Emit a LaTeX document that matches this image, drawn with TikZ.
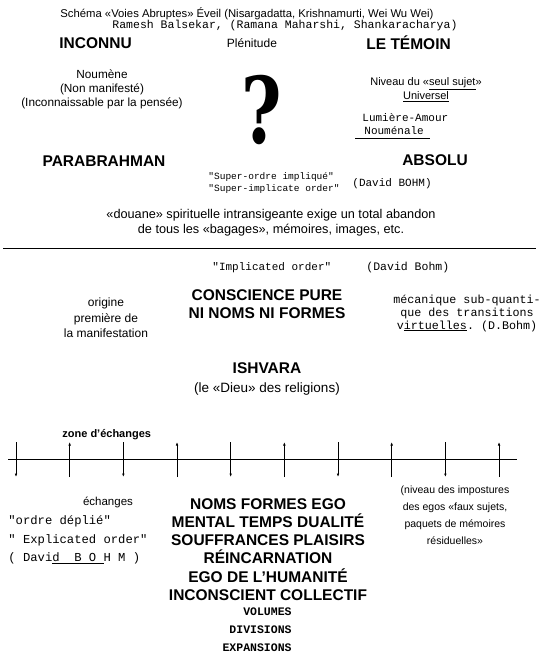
\documentclass[tikz,border=0pt]{standalone}
\usepackage{fontspec}
\setmainfont{Liberation Sans}
\setmonofont{Liberation Mono}
\newfontfamily\qmarkfont{DejaVu Serif}
\usetikzlibrary{arrows.meta}

\tikzset{
	sans/.style={inner sep=0pt, align=center, font=\fontsize{10.5}{14}\selectfont},
	mono/.style={inner sep=0pt, align=left, font=\ttfamily\fontsize{11}{12.5}\selectfont},
	big/.style={inner sep=0pt, align=center, font=\bfseries\fontsize{15.5}{18.3}\selectfont},
	tick/.style={-{Latex[length=3.5pt,width=2.6pt]}, line width=0.8pt},
}

\begin{document}
\begin{tikzpicture}[x=1pt, y=-1pt, line width=0.8pt]
\useasboundingbox (0,0) rectangle (544,660);
\node[sans, anchor=west, font=\fontsize{11.3}{13}\selectfont] (titre) at (60,14)
	{Schéma «Voies Abruptes» Éveil (Nisargadatta, Krishnamurti, Wei Wu Wei)};
\node[mono, anchor=west, font=\ttfamily\fontsize{11.5}{13}\selectfont] (ramesh) at (112,26)
	{Ramesh Balsekar, (Ramana Maharshi, Shankaracharya)};
\node[big, anchor=west] (inconnu) at (59,43) {INCONNU};
\node[sans, font=\fontsize{12}{14}\selectfont] (plenitude) at (252,43) {Plénitude};
\node[big, anchor=west] (temoin) at (366,43) {LE TÉMOIN};
\node[sans, font=\fontsize{11.8}{14}\selectfont] (noumene) at (102,89)
	{Noumène\\(Non manifesté)\\(Inconnaissable par la pensée)};
\node[inner sep=0pt] (qmark) at (262,110)
	{\scalebox{0.75}[1]{\qmarkfont\bfseries\fontsize{92}{92}\selectfont ?}};
\node[sans, font=\fontsize{11}{14}\selectfont] (niveau) at (426,90)
	{Niveau du «\underline{seul sujet}»\\\underline{Universel}};
\node[mono, anchor=west] (lumiere) at (362,118) {Lumière-Amour};
\node[mono, anchor=west] (nm) at (364,131) {Nouménale};
\draw[line width=0.6pt] ([xshift=-9pt,yshift=-3pt]nm.base west)
	-- ([xshift=6pt,yshift=-3pt]nm.base east);
\node[big] (parabrahman) at (104,161) {PARABRAHMAN};
\node[big] (absolu) at (435,160) {ABSOLU};
\node[mono, anchor=west, font=\ttfamily\fontsize{9.5}{11.5}\selectfont] (superordre)
	at (208,183) {"Super-ordre impliqué"\\"Super-implicate order"};
\node[mono, anchor=west] (bohma) at (352,184) {(David BOHM)};
\node[sans, font=\fontsize{12.7}{15}\selectfont] (douane) at (271,223)
	{«douane» spirituelle intransigeante exige un total abandon\\
	de tous les «bagages», mémoires, images, etc.};
\coordinate (sepG) at (3,248);
\coordinate (sepD) at (536,248);
\draw (sepG) -- (sepD);
\node[mono, anchor=west] (implique) at (212,268) {"Implicated order"};
\node[mono, anchor=west, font=\ttfamily\fontsize{11.5}{13}\selectfont] (bohmb)
	at (366,268) {(David Bohm)};
\node[big] (conscience) at (267,304) {CONSCIENCE PURE\\NI NOMS NI FORMES};
\node[sans, font=\fontsize{12}{15.5}\selectfont] (origine) at (106,318)
	{origine\\première de\\la manifestation};
\node[mono, align=center, font=\ttfamily\fontsize{11.7}{13}\selectfont] (mecanique)
	at (467,313) {mécanique sub-quanti-\\que des transitions\\v\underline{irtuelles}. (D.Bohm)};
\node[big] (ishvara) at (267,368) {ISHVARA};
\node[sans, font=\fontsize{13.5}{16}\selectfont] (dieu) at (267,389)
	{(le «Dieu» des religions)};
\node[sans, anchor=west, font=\bfseries\fontsize{11}{13}\selectfont] (zone) at (62,435)
	{zone d'échanges};
\coordinate (axeG) at (8,459);
\coordinate (axeD) at (517,459);
\draw (axeG) -- (axeD);
\foreach \i in {0,...,9} {
	\pgfmathsetmacro\xx{16+53.67*\i}
	\ifodd\i \draw[tick] (\xx,477) -- (\xx,442);
	\else \draw[tick] (\xx,442) -- (\xx,477); \fi
}
\node[sans, font=\fontsize{11.5}{14}\selectfont] (echanges) at (108,502) {échanges};
\node[mono, anchor=west, font=\ttfamily\fontsize{12.2}{14}\selectfont] (ordre)
	at (8,521) {"ordre déplié"};
\node[mono, anchor=west, font=\ttfamily\fontsize{12.2}{14}\selectfont] (explique)
	at (8,540) {"\ Explicated order"};
\node[mono, anchor=west, font=\ttfamily\fontsize{12.2}{14}\selectfont] (bohmc)
	at (8,558) {(\ Davi\underline{d\ \ B\ O\ }H\ M\ )};
\node[big] (bloc) at (268,549.5)
	{NOMS FORMES EGO\\MENTAL TEMPS DUALITÉ\\SOUFFRANCES PLAISIRS\\
	RÉINCARNATION\\EGO DE L'HUMANITÉ\\INCONSCIENT COLLECTIF};
\foreach \mot/\y/\nom in {VOLUMES/612/volumes, DIVISIONS/630/divisions,
	EXPANSIONS/648/expansions}
	\node[mono, anchor=east, font=\ttfamily\bfseries\fontsize{11.5}{12}\selectfont] (\nom)
		at (292,\y) {\mot};
\node[sans, font=\fontsize{10.5}{17}\selectfont] (impostures) at (455,515)
	{(niveau des impostures\\des egos «faux sujets,\\paquets de mémoires\\résiduelles»};
\end{tikzpicture}
\end{document}
